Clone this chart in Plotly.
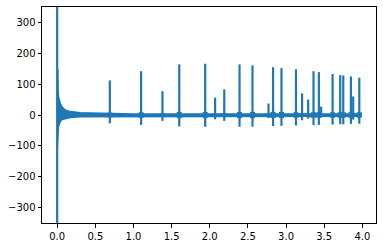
import plotly.graph_objects as go

BLUE = "#1f77b4"

# Spike positions (x), peak values, dip values and base "bulge" half-heights
spike_x = [0.0, 0.69, 1.10, 1.38, 1.60, 1.94, 2.07, 2.19, 2.39, 2.56, 2.77, 2.83, 2.94,
           3.13, 3.21, 3.29, 3.36, 3.43, 3.46, 3.61, 3.71, 3.75, 3.85, 3.88, 3.96]
spike_top = [420, 112, 142, 77, 164, 166, 56, 83, 164, 161, 37, 155, 152,
             148, 70, 50, 142, 139, 27, 133, 129, 128, 125, 60, 121]
spike_bottom = [-420, -27, -32, -19, -37, -38, -14, -19, -38, -38, -10, -36, -35,
                -34, -17, -12, -33, -32, -8, -31, -30, -30, -29, -15, -28]
spike_bulge = [0, 8, 9, 6, 10, 10, 5, 6, 10, 10, 4, 10, 10,
               9, 6, 5, 9, 9, 3, 9, 9, 9, 9, 5, 9]

# Envelope of the fast oscillation around zero
env_x = [0.0, 0.008, 0.012, 0.017, 0.04, 0.061, 0.105, 0.17, 0.3, 0.6, 1.0, 2.0, 3.0, 3.98]
env_hi = [145, 145, 80, 59, 38, 27, 16, 11, 7, 5, 3.5, 3.5, 3.5, 3.5]
env_lo = [-112, -112, -60, -37, -21, -15, -11, -8, -6, -5, -4, -4, -4, -4]

x_ticks = [0.0, 0.5, 1.0, 1.5, 2.0, 2.5, 3.0, 3.5, 4.0]
x_ticktext = ["0.0", "0.5", "1.0", "1.5", "2.0", "2.5", "3.0", "3.5", "4.0"]
y_ticks = [-300, -200, -100, 0, 100, 200, 300]
y_ticktext = ["\u2212300", "\u2212200", "\u2212100", "0", "100", "200", "300"]

fig = go.Figure()

# envelope band
fig.add_trace(go.Scatter(
    x=env_x + env_x[::-1], y=env_hi + env_lo[::-1],
    mode="lines", fill="toself", fillcolor=BLUE,
    line=dict(color=BLUE, width=1.5), hoverinfo="skip", showlegend=False))

# spikes
sx, sy = [], []
for x, t, b in zip(spike_x, spike_top, spike_bottom):
    sx += [x, x, None]
    sy += [b, t, None]
fig.add_trace(go.Scatter(x=sx, y=sy, mode="lines",
                         line=dict(color=BLUE, width=2.2), showlegend=False))

# bulges at spike bases
bx, by = [], []
for x, g in zip(spike_x, spike_bulge):
    if g > 0:
        bx += [x, x, None]
        by += [-g, g, None]
fig.add_trace(go.Scatter(x=bx, y=by, mode="lines",
                         line=dict(color=BLUE, width=5), showlegend=False))

axis_common = dict(showgrid=False, zeroline=False, showline=True, mirror=True,
                   linecolor="black", linewidth=1, ticks="outside", ticklen=3.5,
                   tickwidth=1, tickcolor="black",
                   tickfont=dict(family="DejaVu Sans", size=10, color="black"))

fig.update_layout(
    width=383, height=248,
    margin=dict(l=42, r=7, t=6, b=24),
    paper_bgcolor="white", plot_bgcolor="white",
    xaxis=dict(range=[-0.199, 4.179], tickvals=x_ticks, ticktext=x_ticktext, **axis_common),
    yaxis=dict(range=[-350, 350], tickvals=y_ticks, ticktext=y_ticktext, **axis_common),
    showlegend=False,
)

fig.write_html("out.html")
